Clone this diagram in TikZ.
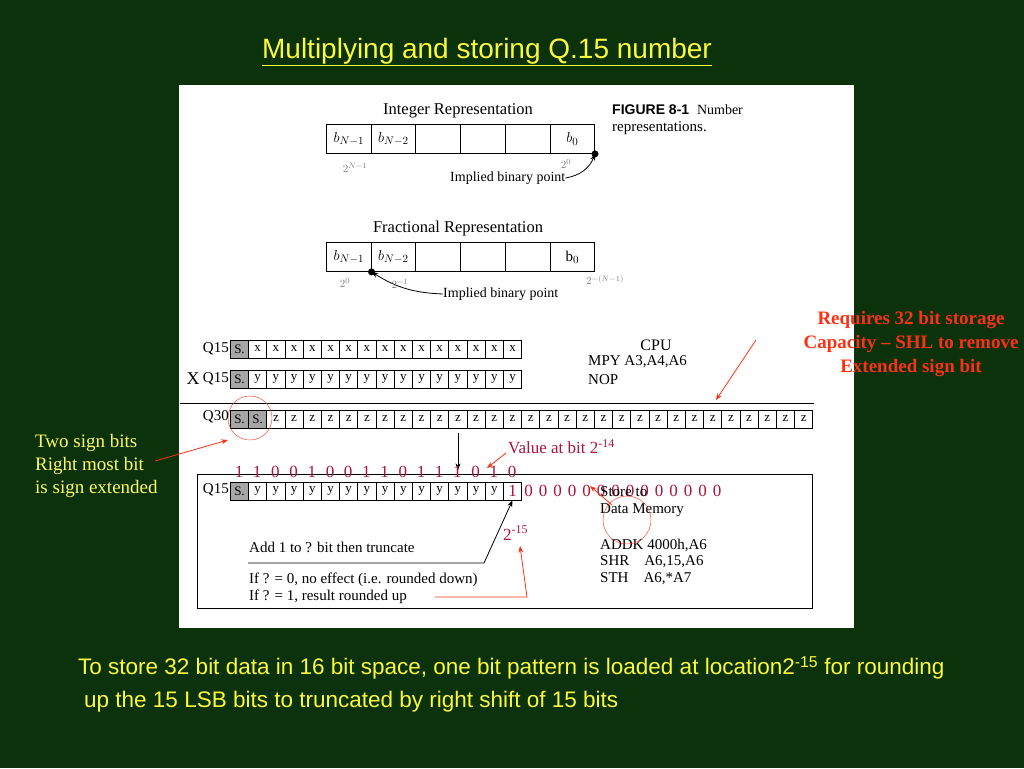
\documentclass[tikz,border=0pt]{standalone}
\usepackage{fontspec}
\setmainfont{Liberation Serif}
\setsansfont{Liberation Sans}
\usetikzlibrary{arrows.meta,positioning}
\definecolor{bggreen}{RGB}{12,50,12}
\definecolor{ttlyellow}{RGB}{250,250,60}
\definecolor{bitred}{RGB}{170,20,60}
\definecolor{notered}{RGB}{250,50,20}
\newcommand{\cw}{18.2}
\newcommand{\fs}[1]{\fontsize{#1}{#1}\selectfont}

\begin{document}
\begin{tikzpicture}[x=1pt,y=-1pt,
	cell/.style={draw,thick,minimum width=\cw pt,minimum height=18pt,inner sep=0pt,font=\fs{13},anchor=west},
	scell/.style={cell,fill=gray!70},
	bcell/.style={draw,thick,minimum width=44.7pt,minimum height=29pt,inner sep=0pt,font=\fs{15},anchor=west},
	txt/.style={font=\fs{15},anchor=west,inner sep=0pt},
	hand/.style={font=\fs{11}\itshape,text=gray,inner sep=0pt},
	red/.style={text=bitred,font=\fs{17},inner sep=0pt},
	>={Stealth}]
	\useasboundingbox (0,0) rectangle (1024,768);
	\fill[bggreen] (0,0) rectangle (1024,768);
	\node[font=\sffamily\fs{28},text=ttlyellow] (title) at (487,52) {\underline{Multiplying and storing Q.15 number}};
	\fill[white] (179,85) rectangle (854,628);
	%\draw[help lines] (179,85) grid (854,628);

	% integer representation
	\node[font=\fs{16.5}] (intt) at (458,111) {Integer Representation};
	\foreach \i/\l in {0/$b_{N-1}$,1/$b_{N-2}$,2/,3/,4/,5/$b_0$}
		\node[bcell] (ib\i) at (326+44.7*\i,139) {\l};
	\fill (ib5.south east) circle (3.5pt);
	\node[txt,font=\fs{14}] (ipt) at (450,178) {Implied binary point};
	\draw[->,thick] (ipt.east) to[bend right=30] (ib5.south east);
	\node[hand] at (355,168) {$2^{N-1}$};
	\node[hand] at (566,164) {$2^{0}$};
	\node[txt,font=\sffamily\bfseries\fs{14}] (fig) at (612,110) {FIGURE 8-1\ \ \normalfont\rmfamily Number};
	\node[txt] (figb) at (612,128) {representations.};

	% fractional representation
	\node[font=\fs{16.5}] (frt) at (458,229) {Fractional Representation};
	\foreach \i/\l in {0/$b_{N-1}$,1/$b_{N-2}$,2/,3/,4/,5/b$_0$}
		\node[bcell] (fb\i) at (326+44.7*\i,257) {\l};
	\fill (fb0.south east) circle (3.5pt);
	\node[txt,font=\fs{14}] (fpt) at (443,294) {Implied binary point};
	\draw[->,thick] (fpt.west) to[bend left=15] (fb0.south east);
	\node[hand] at (345,283) {$2^{0}$};
	\node[hand] at (400,284) {$2^{-1}$};
	\node[hand] at (605,280) {$2^{-(N-1)}$};

	% Q15 x Q15 -> Q30
	\node[txt,anchor=east] (qa) at (229,349) {Q15};
	\node[scell] (xa0) at (230,349) {S.};
	\foreach \i in {1,...,15}
		\node[cell] (xa\i) at (230+\cw*\i,349) {x};
	\node[txt,anchor=east] (qb) at (229,379) {Q15};
	\node[txt,anchor=east,font=\fs{18}] (mul) at (qb.west) {X\,};
	\node[scell] (ya0) at (230,379) {S.};
	\foreach \i in {1,...,15}
		\node[cell] (ya\i) at (230+\cw*\i,379) {y};
	\draw[thick] (180,403) -- (814,403);
	\node[txt,anchor=east] (qc) at (229,417) {Q30};
	\node[scell] (za0) at (230,419) {S.};
	\node[scell] (za1) at (230+\cw,419) {S.};
	\foreach \i in {2,...,31}
		\node[cell] (za\i) at (230+\cw*\i,419) {z};
	\node[font=\fs{16}] (cpu) at (656,345) {CPU};
	\node[txt] (mpy) at (588,362) {MPY A3,A4,A6};
	\node[txt] (nop) at (588,380) {NOP};
	\draw[notered] (250,418) circle (22pt);

	% rounding box
	\draw[thick] (197,474) rectangle (812,608);
	\draw[->,thick] (458,433) -- (458,470);
	\node[txt,anchor=east] (qd) at (229,490) {Q15};
	\node[scell] (wa0) at (230,491) {S.};
	\foreach \i in {1,...,14}
		\node[cell] (wa\i) at (230+\cw*\i,491) {y};
	\node[cell,text=bitred,font=\fs{17}] (wa15) at (230+\cw*15,491) {1};
	\foreach \b [count=\i from 0] in {1,1,0,0,1,0,0,1,1,0,1,1,1,0,1,0}
		\node[red] (rb\i) at (239+\cw*\i,472) {\b};
	\foreach \i in {1,...,14}
		\node[red] (rz\i) at (514+14.5*\i,491) {0};
	\node[txt] (st) at (600,492) {Store to};
	\node[txt] (dm) at (600,510) {Data Memory};
	\node[txt] (addk) at (600,545) {ADDK 4000h,A6};
	\node[txt] (shr) at (600,562) {SHR\ \ \ \ A6,15,A6};
	\node[txt] (sth) at (600,579) {STH\ \ \ \ A6,*A7};
	\draw[notered] (627,520) circle (24pt);
	\draw[->,notered,thick] (612,505) -- (590,486);
	\node[red,anchor=west] (val) at (508,447) {Value at bit 2\textsuperscript{-14}};
	\draw[->,notered,thick] (val.west) ++(-2,6) -- (487,468);
	\node[txt] (add) at (249,547) {Add 1 to ? bit then truncate};
	\coordinate (addc) at (248,563);
	\draw[->,thick] (addc) -- (484,563) -- (wa15.south);
	\node[red,anchor=west] (tw) at (503,533) {2\textsuperscript{-15}};
	\node[txt] (if0) at (249,580) {If ? = 0, no effect (i.e. rounded down)};
	\node[txt] (if1) at (249,597) {If ? = 1, result rounded up};
	\coordinate (ifc) at (435,597);
	\draw[->,notered,thick] (ifc) -- (527,597) -- (520,546);

	% side notes
	\node[txt,font=\fs{19},text=ttlyellow!80!white,align=left] (sign) at (35,466) {Two sign bits\\[4pt]Right most bit\\[4pt]is sign extended};
	\draw[->,notered,thick] (155,461) -- (228,440);
	\node[font=\bfseries\fs{19},text=notered,align=center] (req) at (911,344) {Requires 32 bit storage\\[5pt]Capacity -- SHL to remove\\[5pt]Extended sign bit};
	\draw[->,notered,thick] (756,340) -- (716,400);
	\node[txt,font=\sffamily\fs{22.5},text=ttlyellow] (bot1) at (78,668) {To store 32 bit data in 16 bit space, one bit pattern is loaded at location2\textsuperscript{-15} for rounding};
	\node[txt,font=\sffamily\fs{22.5},text=ttlyellow] (bot2) at (84,702) {up the 15 LSB bits to truncated by right shift of 15 bits};
\end{tikzpicture}
\end{document}
